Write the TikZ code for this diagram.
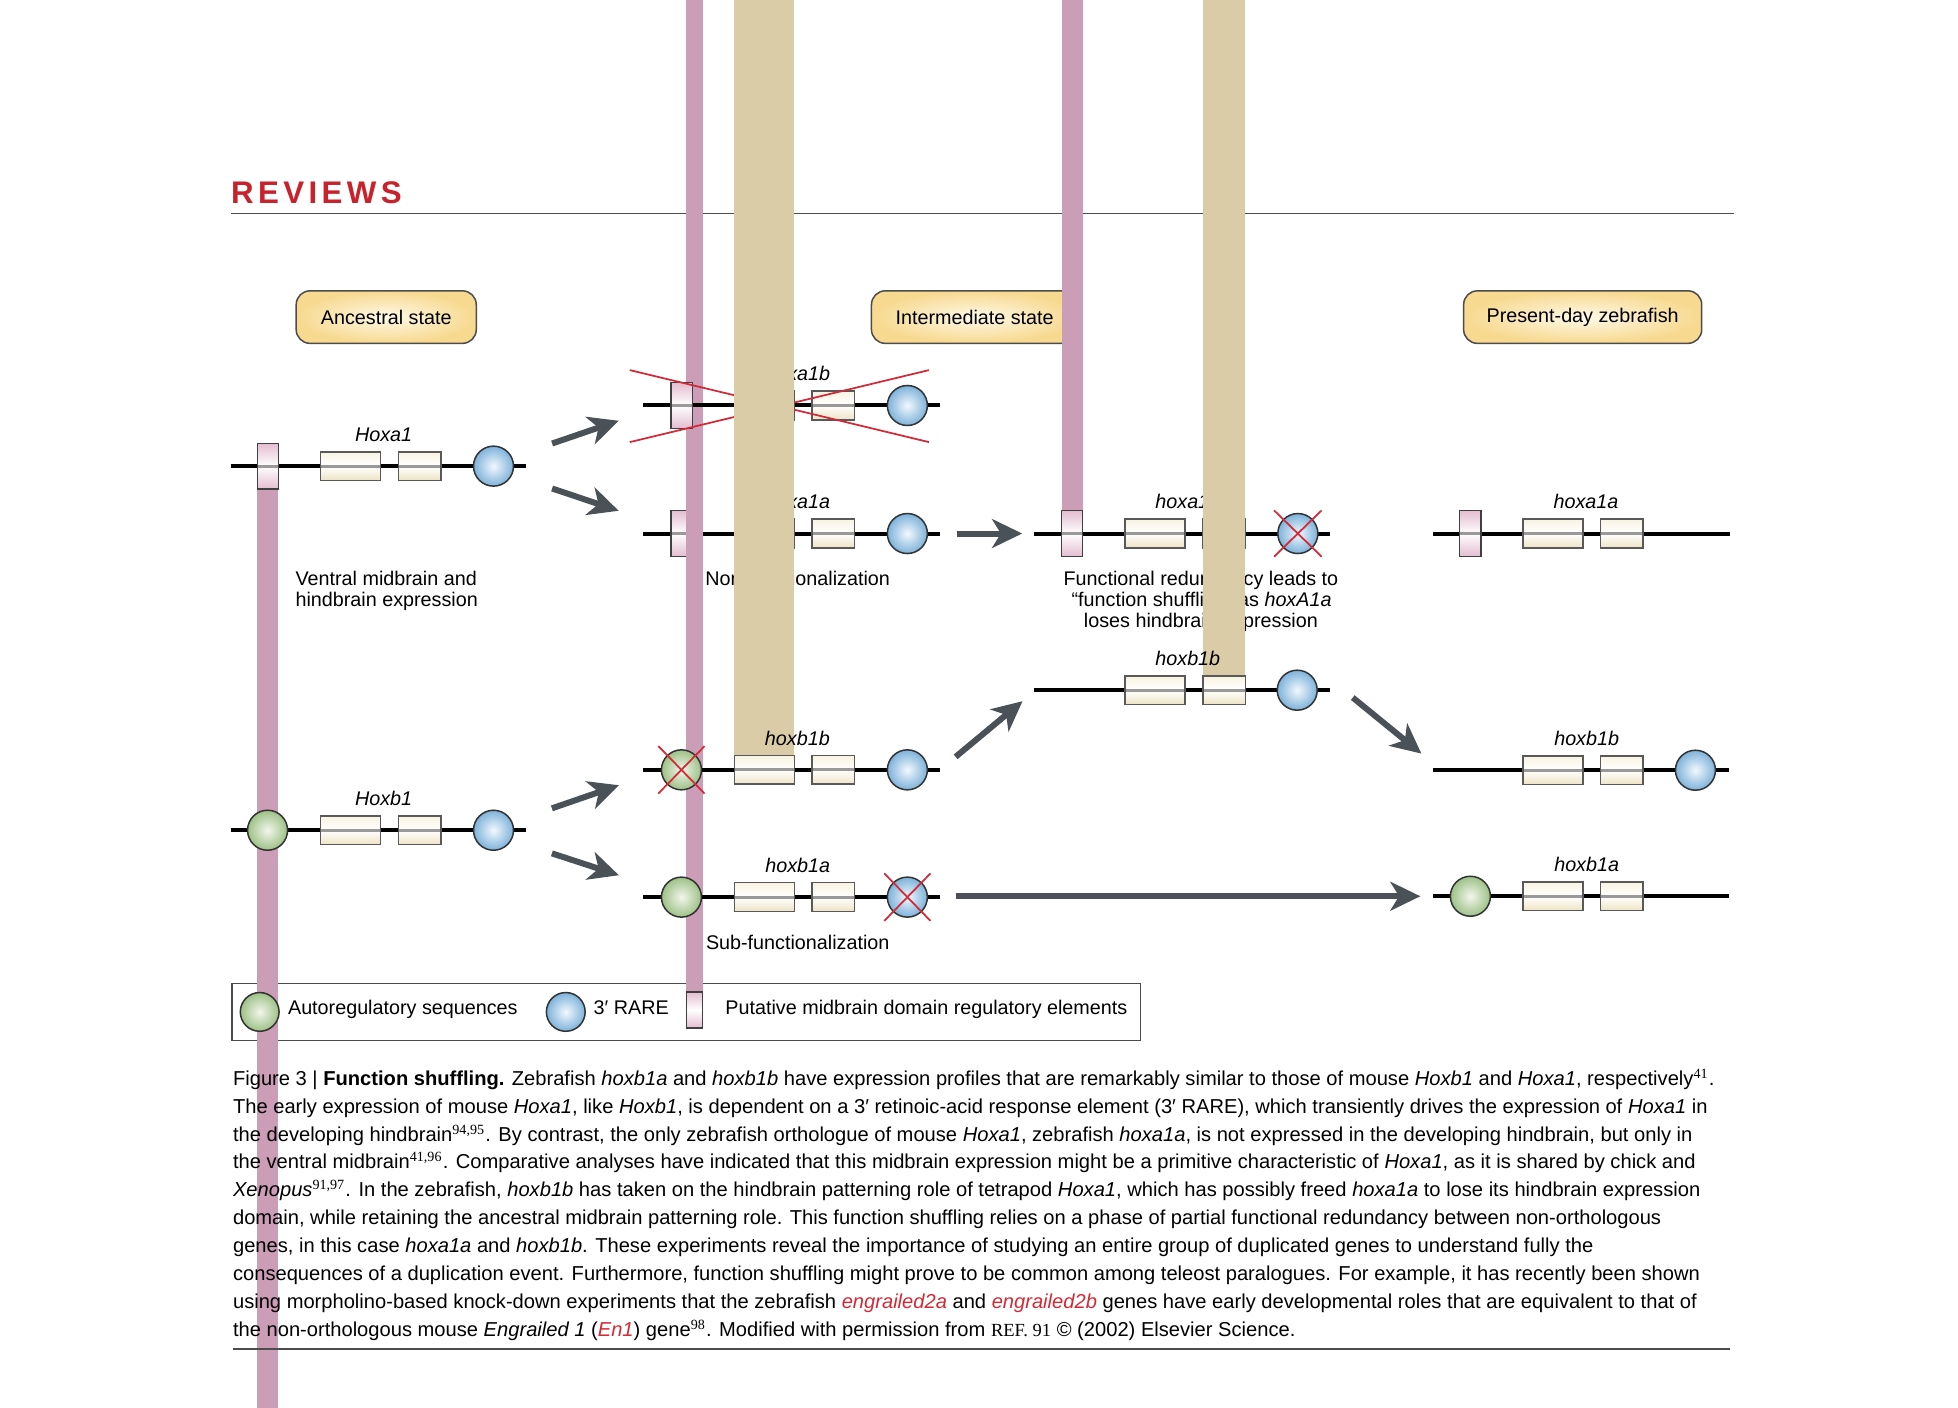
\documentclass[tikz,border=0pt]{standalone}
\usepackage{fontspec}
\setmainfont{Liberation Sans}
\newfontfamily\serifsup{Liberation Serif}
\newfontfamily\revfont[LetterSpace=14]{Liberation Sans}
\usetikzlibrary{arrows.meta}
\definecolor{pinkbar}{HTML}{CB9DB7}
\definecolor{tanbar}{HTML}{D9CCA6}
\definecolor{revred}{HTML}{C8232C}
\definecolor{crossred}{HTML}{D22A36}
\definecolor{arrowgray}{HTML}{4A5157}
\definecolor{bluein}{HTML}{F2F8FD}
\definecolor{blueout}{HTML}{7DB2DA}
\definecolor{greenin}{HTML}{F2F6EC}
\definecolor{greenout}{HTML}{9DC186}
\definecolor{pinktop}{HTML}{E3BDD0}
\definecolor{creamtop}{HTML}{F8F3E2}
\definecolor{creambot}{HTML}{EDE3C4}
\definecolor{stagein}{HTML}{FFF9E8}
\definecolor{stageout}{HTML}{F7D98F}
\newcommand\dfont{\fontsize{7.9}{9}\selectfont}
\newcommand\cfont{\fontsize{8.05}{11}\selectfont}
\newcommand\capsup[1]{\textsuperscript{\serifsup #1}}
\tikzset{
  gline/.style={line width=1.6pt, draw=black},
  thru/.style={path picture={\draw[draw=black!40, line width=1.2pt] (path picture bounding box.west) -- (path picture bounding box.east);}},
  exon/.style={rectangle, draw=black!65, line width=0.6pt, inner sep=0pt, minimum height=11.5pt, top color=creamtop, bottom color=creambot, middle color=white, thru},
  exonL/.style={exon, minimum width=24pt},
  exonS/.style={exon, minimum width=17pt},
  rare/.style={circle, draw=black!80, line width=0.6pt, inner sep=0pt, minimum size=16pt, inner color=bluein, outer color=blueout},
  autoreg/.style={circle, draw=black!80, line width=0.6pt, inner sep=0pt, minimum size=16pt, inner color=greenin, outer color=greenout},
  pinkfill/.style={rectangle, draw=black!75, line width=0.6pt, inner sep=0pt, top color=pinktop, bottom color=pinktop, middle color=white},
  midbox/.style={pinkfill, minimum width=8.5pt, minimum height=18.25pt, thru},
  redx/.style={draw=crossred, line width=0.7pt},
  bigarrow/.style={draw=arrowgray, line width=2.4pt, -{Stealth[length=12pt,width=11.5pt,inset=3.5pt]}},
  stage/.style={rectangle, rounded corners=5.5pt, draw=black!70, line width=0.6pt, inner color=stagein, outer color=stageout, minimum height=21pt, inner sep=0pt, font=\dfont},
  gname/.style={font=\dfont\itshape, anchor=base, inner sep=0pt},
  dtext/.style={font=\dfont, anchor=base, inner sep=0pt},
  ltext/.style={font=\dfont, anchor=base west, inner sep=0pt},
  captext/.style={font=\cfont, anchor=base west, inner sep=0pt},
  pbar/.style={fill=pinkbar},
  tbar/.style={fill=tanbar},
}
\begin{document}
\begin{tikzpicture}[x=0.5pt,y=-0.5pt]
\useasboundingbox (0,0) rectangle (1566,1126);
\fill[white] (0,0) rectangle (1566,1126);

% header
\node[anchor=base west, inner sep=0pt, font=\revfont\bfseries\fontsize{12.5}{14}\selectfont, text=revred] (rev) at (184.5,162.7) {REVIEWS};
\draw[black!70, line width=0.6pt] (184.6,170.7) -- (1387,170.7);

% stage boxes
\node[stage, minimum width=72pt] (st1) at (308.9,253.6) {Ancestral state};
\node[stage, minimum width=82.5pt] (st2) at (779.5,253.6) {Intermediate state};
\node[stage, minimum width=95.2pt] (st3) at (1265.8,253.6) {Present-day zebrafish};

% legend frame
\node[rectangle, draw=black!70, line width=0.6pt, minimum width=363.3pt, minimum height=22.65pt, inner sep=0pt] (leg) at (548.9,809.35) {};

% pink bar 1
\fill[pbar] (205.5,391.5) rectangle (222.7,1126);

% row C (under pink bar 2)
\coordinate (C-l) at (514.5,426.7); \coordinate (C-end) at (751.5,426.7);
\draw[gline] (C-l) -- (C-end);
\node[midbox] (C-p) at (545.2,426.7) {};

% pink bars 2 and 3
\fill[pbar] (548.8,0) rectangle (561.9,793.3);
\fill[pbar] (849,0) rectangle (866,408.5);

% ---- row A : Hoxa1
\coordinate (A-l) at (184.6,372.8); \coordinate (A-end) at (420.3,372.8);
\draw[gline] (A-l) -- (A-end);
\node[midbox] (A-p) at (214.4,372.8) {};
\node[exonL] (A-e1) at (280.3,372.8) {};
\node[exonS] (A-e2) at (335.6,372.8) {};
\node[rare] (A-r) at (394.7,372.8) {};
\node[gname] (A-n) at (306.8,352.8) {Hoxa1};
\node[ltext] (A-t1) at (236,468.5) {Ventral midbrain and};
\node[ltext] (A-t2) at (236,485.3) {hindbrain expression};

% ---- row B : hoxa1b (lost)
\coordinate (B-l) at (514.5,324.3); \coordinate (B-end) at (751.5,324.3);
\draw[gline] (B-l) -- (B-end);
\node[midbox] (B-p) at (545.2,324.3) {};
\node[exonL] (B-e1) at (611.5,324.3) {};
\node[exonS] (B-e2) at (666.4,324.3) {};
\node[rare] (B-r) at (725.7,324.3) {};
\node[gname] (B-n) at (638,304.3) {hoxa1b};
\coordinate (Bx1) at (503.7,296); \coordinate (Bx2) at (743,353.6);
\coordinate (Bx3) at (503.7,353.6); \coordinate (Bx4) at (743,296);
\draw[redx] (Bx1) -- (Bx2);
\draw[redx] (Bx3) -- (Bx4);

% ---- row C : hoxa1a (rest)
\node[exonL] (C-e1) at (611.5,426.7) {};
\node[exonS] (C-e2) at (666.4,426.7) {};
\node[rare] (C-r) at (725.7,426.7) {};
\node[gname] (C-n) at (638,406.7) {hoxa1a};
\node[dtext] (C-t) at (638,468.5) {Non-functionalization};

% ---- row D : intermediate hoxa1a
\coordinate (D-l) at (826.7,426.7); \coordinate (D-end) at (1064,426.7);
\draw[gline] (D-l) -- (D-end);
\node[midbox] (D-p) at (857.3,426.7) {};
\node[exonL] (D-e1) at (923.7,426.7) {};
\node[exonS] (D-e2) at (979.1,426.7) {};
\node[rare] (D-r) at (1038,426.7) {};
\draw[redx] ([shift={(-19,-18.5)}]D-r.center) -- ([shift={(19,18.5)}]D-r.center);
\draw[redx] ([shift={(-19,18.5)}]D-r.center) -- ([shift={(19,-18.5)}]D-r.center);
\node[gname] (D-n) at (950,406.7) {hoxa1a};
\node[dtext] (D-t1) at (960.5,468) {Functional redundancy leads to};
\node[dtext] (D-t2) at (961,485) {“function shuffling” as \textit{hoxA1a}};
\node[dtext] (D-t3) at (960.5,502) {loses hindbrain expression};

% ---- row E : present hoxa1a
\coordinate (E-l) at (1145.7,426.7); \coordinate (E-end) at (1383.5,426.7);
\draw[gline] (E-l) -- (E-end);
\node[midbox] (E-p) at (1175.8,426.7) {};
\node[exonL] (E-e1) at (1242,426.7) {};
\node[exonS] (E-e2) at (1297.1,426.7) {};
\node[gname] (E-n) at (1268.5,406.7) {hoxa1a};

% ---- row F : Hoxb1
\coordinate (F-l) at (184.6,664); \coordinate (F-end) at (420.3,664);
\draw[gline] (F-l) -- (F-end);
\node[autoreg] (F-a) at (214,664) {};
\node[exonL] (F-e1) at (280.4,664) {};
\node[exonS] (F-e2) at (335.6,664) {};
\node[rare] (F-r) at (394.7,664) {};
\node[gname] (F-n) at (306.8,644.3) {Hoxb1};

% ---- row H : hoxb1a
\coordinate (H-l) at (514.5,717.5); \coordinate (H-end) at (751.5,717.5);
\draw[gline] (H-l) -- (H-end);
\node[autoreg] (H-a) at (545,717.5) {};
\node[exonL] (H-e1) at (611.5,717.5) {};
\node[exonS] (H-e2) at (666.4,717.5) {};
\node[rare] (H-r) at (725.7,717.5) {};
\draw[redx] ([shift={(-18.5,-19)}]H-r.center) -- ([shift={(18.5,19)}]H-r.center);
\draw[redx] ([shift={(-18.5,19)}]H-r.center) -- ([shift={(18.5,-19)}]H-r.center);
\node[gname] (H-n) at (638,697.5) {hoxb1a};
\node[dtext] (H-t) at (638,759.5) {Sub-functionalization};

% ---- row J : present hoxb1b
\coordinate (J-l) at (1145.7,616); \coordinate (J-end) at (1383,616);
\draw[gline] (J-l) -- (J-end);
\node[exonL] (J-e1) at (1242,616) {};
\node[exonS] (J-e2) at (1297.1,616) {};
\node[rare] (J-r) at (1356,616) {};
\node[gname] (J-n) at (1269,596) {hoxb1b};

% ---- row K : present hoxb1a
\coordinate (K-l) at (1145.7,716.8); \coordinate (K-end) at (1383,716.8);
\draw[gline] (K-l) -- (K-end);
\node[autoreg] (K-a) at (1176,716.8) {};
\node[exonL] (K-e1) at (1242,716.8) {};
\node[exonS] (K-e2) at (1297.1,716.8) {};
\node[gname] (K-n) at (1269,696.8) {hoxb1a};

% tan bars (over rows B, C, D; under rows G, I)
\fill[tbar] (587.2,0) rectangle (635.2,604.2);
\fill[tbar] (962.2,0) rectangle (995.6,540.5);

% ---- row G : hoxb1b
\coordinate (G-l) at (514.5,615.7); \coordinate (G-end) at (751.5,615.7);
\draw[gline] (G-l) -- (G-end);
\node[autoreg] (G-a) at (545,615.7) {};
\draw[redx] ([shift={(-18.5,-19)}]G-a.center) -- ([shift={(18.5,19)}]G-a.center);
\draw[redx] ([shift={(-18.5,19)}]G-a.center) -- ([shift={(18.5,-19)}]G-a.center);
\node[exonL] (G-e1) at (611.5,615.7) {};
\node[exonS] (G-e2) at (666.4,615.7) {};
\node[rare] (G-r) at (725.7,615.7) {};
\node[gname] (G-n) at (637.7,595.9) {hoxb1b};

% ---- row I : intermediate hoxb1b
\coordinate (I-l) at (826.7,552); \coordinate (I-end) at (1064,552);
\draw[gline] (I-l) -- (I-end);
\node[exonL] (I-e1) at (923.7,552) {};
\node[exonS] (I-e2) at (979.1,552) {};
\node[rare] (I-r) at (1037.5,552) {};
\node[gname] (I-n) at (950,532) {hoxb1b};

% ---- arrows
\coordinate (a1s) at (441.6,354.7); \coordinate (a1t) at (494.8,336.5);
\coordinate (a2s) at (441.6,390.7); \coordinate (a2t) at (494.8,408.5);
\coordinate (a3s) at (441.4,646.5); \coordinate (a3t) at (495,628);
\coordinate (a4s) at (441.4,682.5); \coordinate (a4t) at (495,700);
\coordinate (a5s) at (765,426.7); \coordinate (a5t) at (817.5,426.7);
\coordinate (a6s) at (764.3,605.3); \coordinate (a6t) at (817.8,560.8);
\coordinate (a7s) at (1081.9,557.9); \coordinate (a7t) at (1136.8,602.7);
\coordinate (a8s) at (764.3,716.8); \coordinate (a8t) at (1136,716.8);
\draw[bigarrow] (a1s) -- (a1t);
\draw[bigarrow] (a2s) -- (a2t);
\draw[bigarrow] (a3s) -- (a3t);
\draw[bigarrow] (a4s) -- (a4t);
\draw[bigarrow] (a5s) -- (a5t);
\draw[bigarrow] (a6s) -- (a6t);
\draw[bigarrow] (a7s) -- (a7t);
\draw[bigarrow] (a8s) -- (a8t);

% legend content
\node[autoreg, minimum size=15.5pt] (L-a) at (207.7,809.3) {};
\node[ltext] (L-at) at (230,811) {Autoregulatory sequences};
\node[rare, minimum size=15.5pt] (L-r) at (452.5,809.3) {};
\node[ltext] (L-rt) at (474.4,811) {3′ RARE};
\node[pinkfill, minimum width=6.5pt, minimum height=14.4pt] (L-p) at (555.5,807.7) {};
\node[ltext] (L-pt) at (579.8,811) {Putative midbrain domain regulatory elements};

% caption
\node[captext] (cap1) at (186,868) {Figure 3 | \textbf{Function shuffling.} Zebrafish \textit{hoxb1a} and \textit{hoxb1b} have expression profiles that are remarkably similar to those of mouse \textit{Hoxb1} and \textit{Hoxa1}, respectively\capsup{41}.};
\node[captext] (cap2) at (186,890.3) {The early expression of mouse \textit{Hoxa1}, like \textit{Hoxb1}, is dependent on a 3′ retinoic-acid response element (3′ RARE), which transiently drives the expression of \textit{Hoxa1} in};
\node[captext] (cap3) at (186,912.6) {the developing hindbrain\capsup{94,95}. By contrast, the only zebrafish orthologue of mouse \textit{Hoxa1}, zebrafish \textit{hoxa1a}, is not expressed in the developing hindbrain, but only in};
\node[captext] (cap4) at (186,934.9) {the ventral midbrain\capsup{41,96}. Comparative analyses have indicated that this midbrain expression might be a primitive characteristic of \textit{Hoxa1}, as it is shared by chick and};
\node[captext] (cap5) at (186,957.2) {\textit{Xenopus}\capsup{91,97}. In the zebrafish, \textit{hoxb1b} has taken on the hindbrain patterning role of tetrapod \textit{Hoxa1}, which has possibly freed \textit{hoxa1a} to lose its hindbrain expression};
\node[captext] (cap6) at (186,979.5) {domain, while retaining the ancestral midbrain patterning role. This function shuffling relies on a phase of partial functional redundancy between non-orthologous};
\node[captext] (cap7) at (186,1001.8) {genes, in this case \textit{hoxa1a} and \textit{hoxb1b}. These experiments reveal the importance of studying an entire group of duplicated genes to understand fully the};
\node[captext] (cap8) at (186,1024.1) {consequences of a duplication event. Furthermore, function shuffling might prove to be common among teleost paralogues. For example, it has recently been shown};
\node[captext] (cap9) at (186,1046.4) {using morpholino-based knock-down experiments that the zebrafish \textcolor{crossred}{\textit{engrailed2a}} and \textcolor{crossred}{\textit{engrailed2b}} genes have early developmental roles that are equivalent to that of};
\node[captext] (cap10) at (186,1068.7) {the non-orthologous mouse \textit{Engrailed 1} (\textcolor{crossred}{\textit{En1}}) gene\capsup{98}. Modified with permission from {\serifsup\fontsize{7.4}{9}\selectfont REF.~91} © (2002) Elsevier Science.};
\draw[black!70, line width=0.6pt] (186,1078.7) -- (1384,1078.7);
\end{tikzpicture}
\end{document}
